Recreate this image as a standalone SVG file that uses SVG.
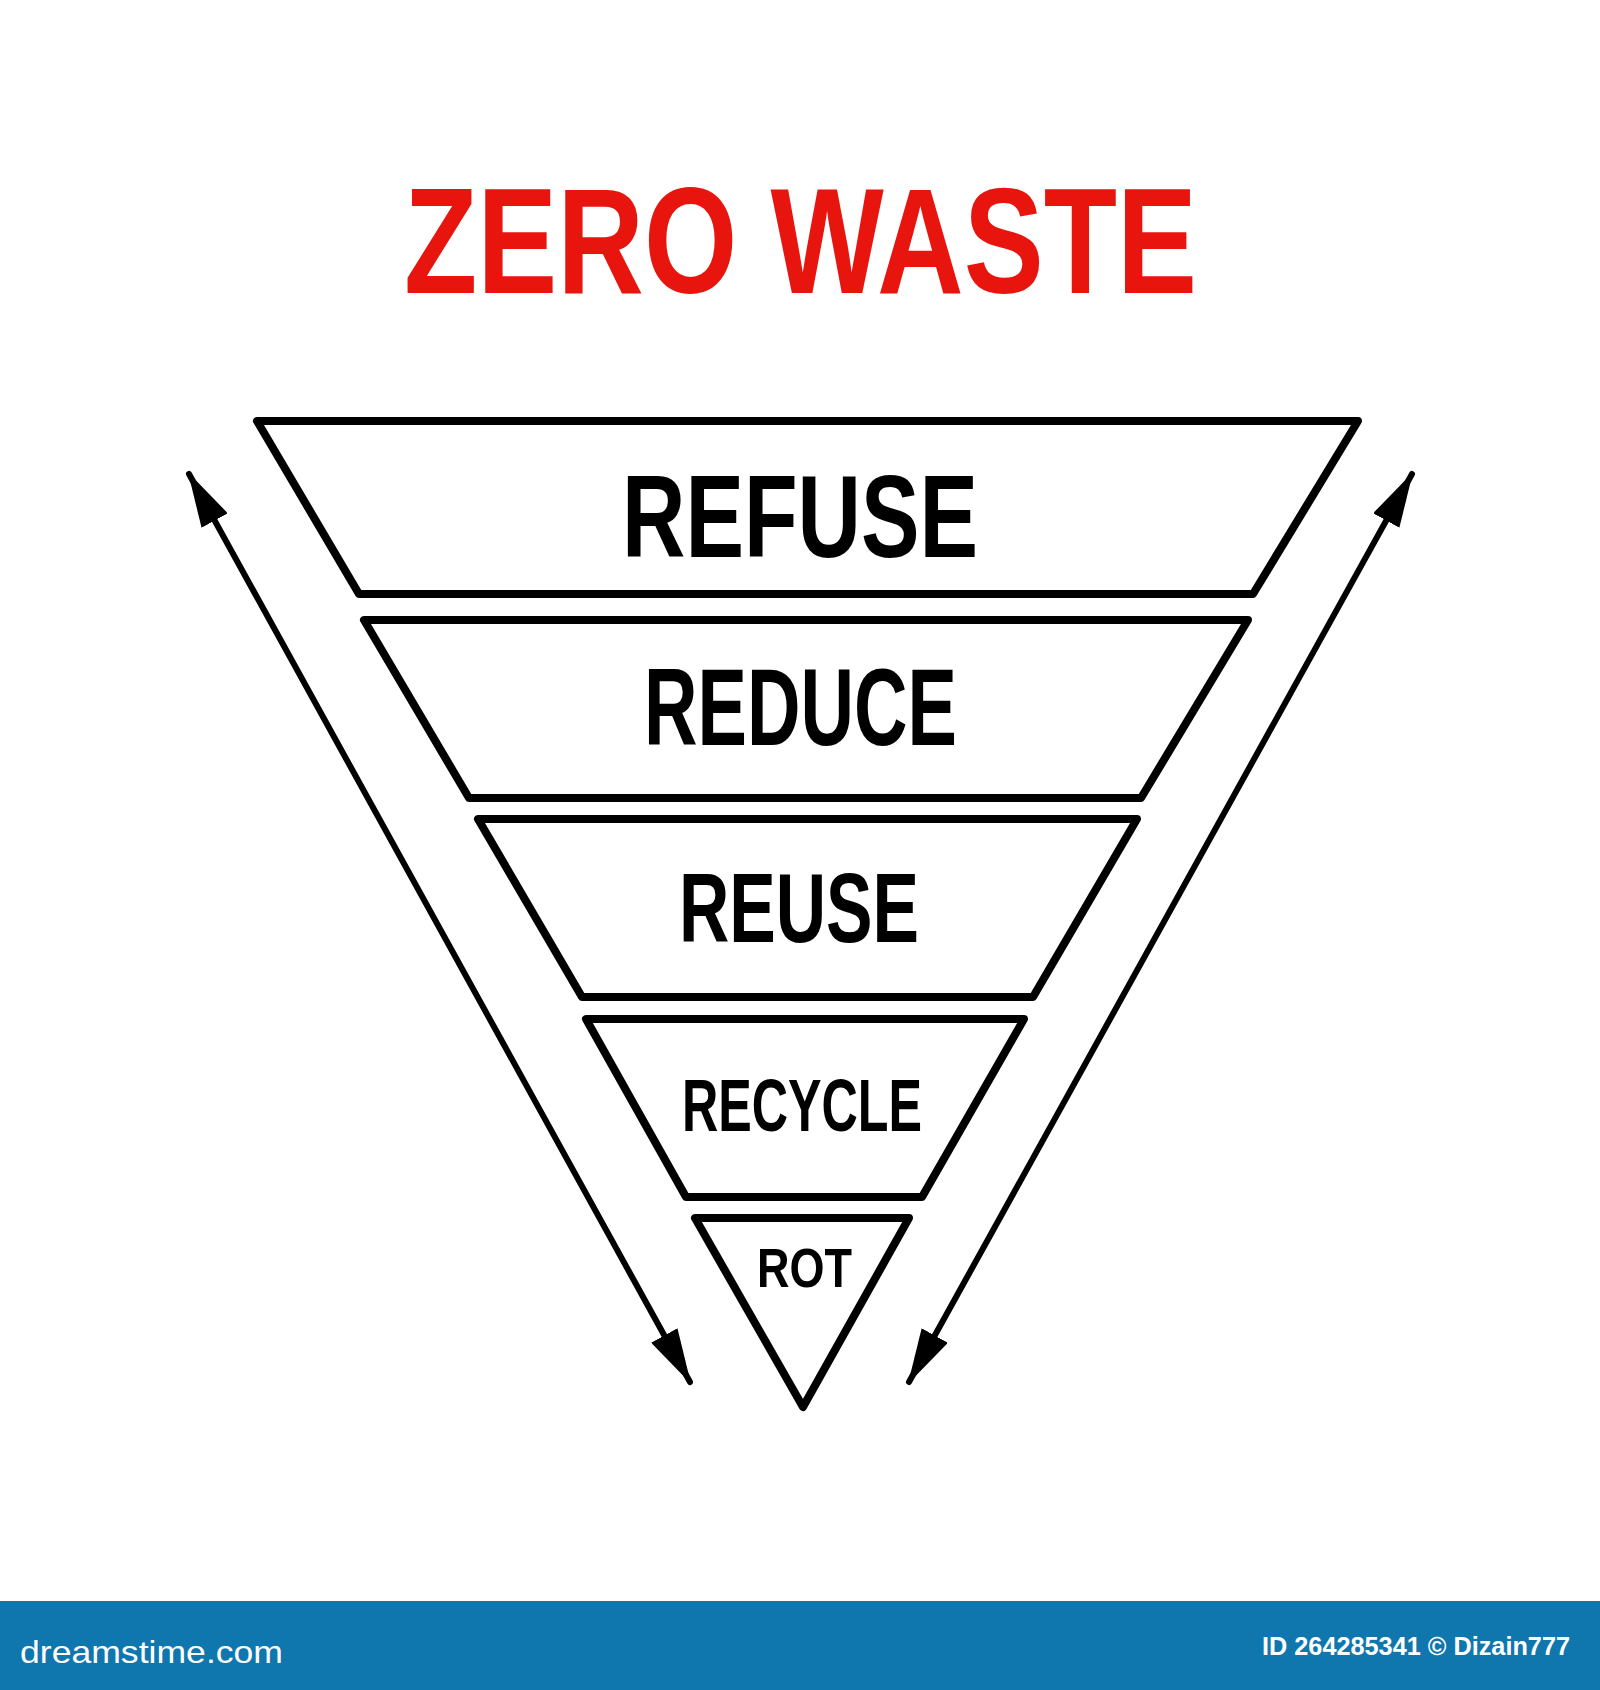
<svg xmlns="http://www.w3.org/2000/svg" width="1600" height="1690" viewBox="0 0 1600 1690">
  <defs>
    <style>
      .band { fill: #ffffff; stroke: #000000; stroke-width: 8; stroke-linejoin: round; stroke-linecap: round; }
      .lbl { font-family: "Liberation Sans", Arial, sans-serif; font-weight: bold; fill: #000000; text-anchor: start; }
      .arrow { stroke: #000000; stroke-width: 6; stroke-linecap: round; fill: none; }
      .title { font-family: "Liberation Sans", Arial, sans-serif; font-weight: bold; fill: #e8140e; }
      .foot { font-family: "Liberation Sans", Arial, sans-serif; fill: #ffffff; }
    </style>
    <marker id="head" viewBox="0 0 11 6" preserveAspectRatio="none" refX="10.6" refY="3" markerWidth="9.2" markerHeight="5" markerUnits="strokeWidth" orient="auto-start-reverse">
      <path d="M0,0 L11,3 L0,6 Z" fill="#000000"/>
    </marker>
  </defs>
  <rect x="0" y="0" width="1600" height="1690" fill="#ffffff"/>

  <g id="title">
    <text class="title" x="404" y="293" font-size="150" textLength="793" lengthAdjust="spacingAndGlyphs">ZERO WASTE</text>
  </g>

  <g id="connectors">
    <line class="arrow" x1="690" y1="1382" x2="189" y2="474" marker-start="url(#head)" marker-end="url(#head)"/>
    <line class="arrow" x1="909" y1="1382" x2="1412" y2="474" marker-start="url(#head)" marker-end="url(#head)"/>
  </g>

  <g id="refuse">
    <polygon class="band" points="257,421 1358,421 1253,594 359,594"/>
    <text class="lbl" x="622" y="557" font-size="117" textLength="356" lengthAdjust="spacingAndGlyphs">REFUSE</text>
  </g>
  <g id="reduce">
    <polygon class="band" points="364,620 1248,620 1141,798 469,798"/>
    <text class="lbl" x="644" y="745" font-size="109" textLength="313" lengthAdjust="spacingAndGlyphs">REDUCE</text>
  </g>
  <g id="reuse">
    <polygon class="band" points="478,819 1137,819 1033,997 582,997"/>
    <text class="lbl" x="679" y="942" font-size="98" textLength="240" lengthAdjust="spacingAndGlyphs">REUSE</text>
  </g>
  <g id="recycle">
    <polygon class="band" points="586,1019 1024,1019 922,1197 686,1197"/>
    <text class="lbl" x="682" y="1131" font-size="75" textLength="240" lengthAdjust="spacingAndGlyphs">RECYCLE</text>
  </g>
  <g id="rot">
    <polygon class="band" points="695,1218 909,1218 803,1407"/>
    <text class="lbl" x="757" y="1287" font-size="56" textLength="95" lengthAdjust="spacingAndGlyphs">ROT</text>
  </g>

  <g id="footer">
    <rect x="0" y="1601" width="1600" height="89" fill="#0f76ae"/>
    <text class="foot" x="20" y="1663" font-size="32" textLength="263" lengthAdjust="spacingAndGlyphs">dreamstime.com</text>
    <text class="foot" x="1262" y="1655" font-size="25" font-weight="bold" textLength="308" lengthAdjust="spacingAndGlyphs">ID 264285341 © Dizain777</text>
  </g>
</svg>
